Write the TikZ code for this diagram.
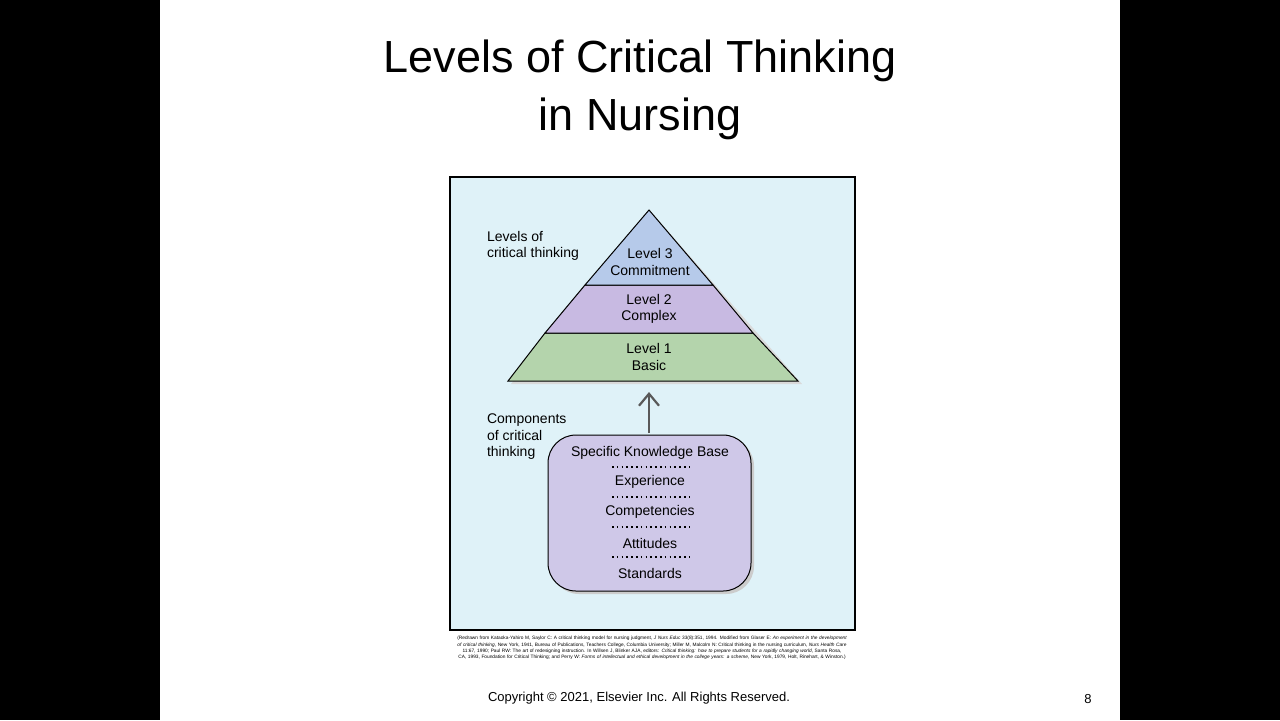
\documentclass[tikz,border=0pt]{standalone}
\usetikzlibrary{arrows.meta}
\usepackage{fontspec}
\setmainfont{Liberation Sans}
\begin{document}
\begin{tikzpicture}[x=0.5pt,y=-0.5pt,
  lbl/.style={font=\fontsize{7}{8.2}\selectfont,align=center},
  lft/.style={font=\fontsize{7}{8.2}\selectfont,align=left,anchor=north west},
  dots/.style={line width=1.1pt,dash pattern=on 0.8pt off 1.6pt}]
\useasboundingbox (0,0) rectangle (1280,720);
\fill[black] (0,0) rectangle (160,720);
\fill[black] (1120,0) rectangle (1280,720);
\fill[white] (160,0) rectangle (1120,720);
\node[font=\fontsize{22.5}{29}\selectfont,align=center] (title) at (640,90) {Levels of Critical Thinking\\in Nursing};
\draw[fill={rgb,255:red,223;green,242;blue,248},line width=0.6pt] (450,177) rectangle (855,630);
% pyramid
\fill[gray!30] (511,384) -- (652,213) -- (802,384) -- cycle;
\draw[fill={rgb,255:red,180;green,212;blue,172},line width=0.5pt] (508,381) -- (545,333) -- (753,333) -- (798,381) -- cycle;
\draw[fill={rgb,255:red,200;green,186;blue,226},line width=0.5pt] (545,333) -- (585,285) -- (713,285) -- (753,333) -- cycle;
\draw[fill={rgb,255:red,182;green,202;blue,234},line width=0.5pt] (585,285) -- (649,210) -- (713,285) -- cycle;
\node[lbl] (l3) at (650,262) {Level 3\\Commitment};
\node[lbl] (l2) at (649,309) {Level 2\\Complex};
\node[lbl] (l1) at (649,357) {Level 1\\Basic};
\node[lft] (lev) at (480,224) {Levels of\\critical thinking};
\node[lft] (comp) at (480,407) {Components\\of critical\\thinking};
% box
\fill[gray!40,rounded corners=14pt] (551,438) rectangle (754,594);
\draw[fill={rgb,255:red,207;green,200;blue,232},rounded corners=14pt,line width=0.5pt] (548,435) rectangle (751,591);
\node[lbl] (k) at (650,453) {Specific Knowledge Base};
\node[lbl] (e) at (650,482) {Experience};
\node[lbl] (c) at (650,512) {Competencies};
\node[lbl] (a) at (650,543) {Attitudes};
\node[lbl] (s) at (650,573) {Standards};
\foreach \y in {467,497,527,557} \draw[dots] (612,\y) -- (690,\y);
\coordinate (top) at (649,392);
\coordinate (bot) at (649,433);
\draw[-{Straight Barb[length=6pt,width=10pt]},line width=1.1pt,gray!70!black] (bot) -- (top);
\node[font=\fontsize{2.4}{3.1}\selectfont,align=center,text width=200pt] (cite) at (652,648) {(Redrawn from Kataoka-Yahiro M, Saylor C: A critical thinking model for nursing judgment, \textit{J Nurs Educ} 33(8):351, 1994. Modified from Glaser E: \textit{An experiment in the development of critical thinking}, New York, 1941, Bureau of Publications, Teachers College, Columbia University; Miller M, Malcolm N: Critical thinking in the nursing curriculum, \textit{Nurs Health Care} 11:67, 1990; Paul RW: The art of redesigning instruction. In Willsen J, Blinker AJA, editors: \textit{Critical thinking: how to prepare students for a rapidly changing world}, Santa Rosa, CA, 1993, Foundation for Critical Thinking; and Perry W: \textit{Forms of intellectual and ethical development in the college years: a scheme}, New York, 1979, Holt, Rinehart, \& Winston.)};
\node[font=\fontsize{6.5}{8}\selectfont] (copy) at (639,698) {Copyright © 2021, Elsevier Inc. All Rights Reserved.};
\node[font=\fontsize{6.5}{8}\selectfont] (pg) at (1088,699) {8};
\end{tikzpicture}
\end{document}
